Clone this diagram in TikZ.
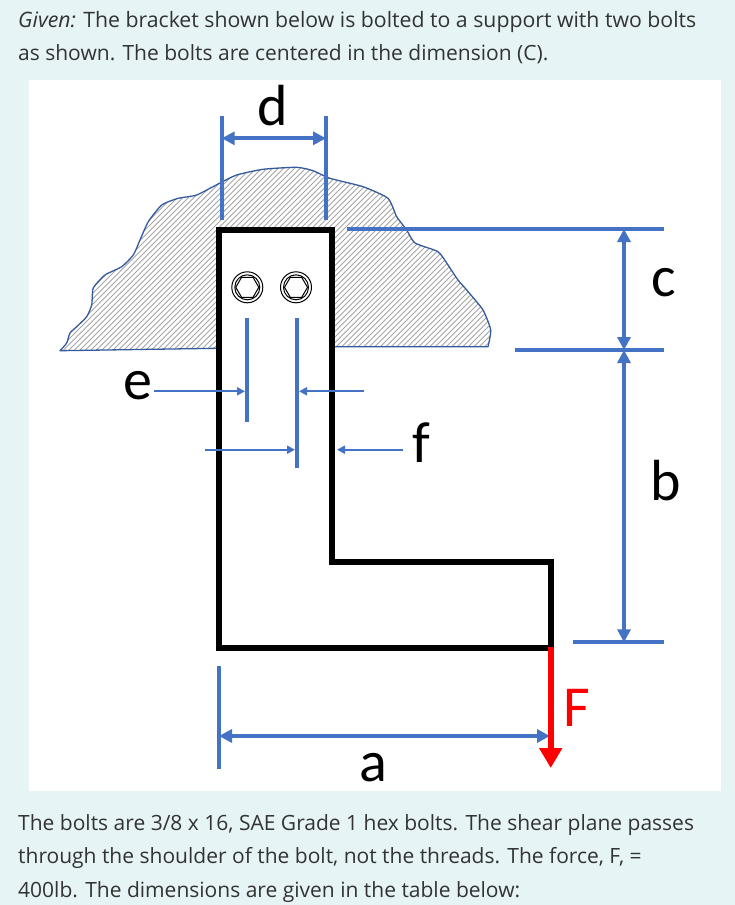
\documentclass[tikz,border=0pt]{standalone}
\usepackage{fontspec}
\usepackage{tikz}
\usetikzlibrary{arrows.meta,shapes.geometric}
\setmainfont{Open Sans}
\newfontfamily\dimfont{Carlito}
\definecolor{pagebg}{HTML}{E6F4F5}
\definecolor{dimblue}{HTML}{4472C4}
\definecolor{hatchgray}{HTML}{A6A6A6}
\definecolor{textgray}{HTML}{333333}
\newcommand{\rockpath}{plot[smooth,tension=.35] coordinates {(60,350.7) (66.7,343) (70,333) (76.7,326.7) (86.7,316.7) (91.7,305) (93.3,288) (105,275) (121.7,266.7) (133.3,255) (140,240) (148.3,221.7) (161.7,205) (178.3,198.3) (196.7,195) (220,183) (236.7,175) (263,169.3) (296.7,167.3) (313,170.7) (330,178.3) (363,186.7) (388,198.3) (396.7,216.7) (406.7,230) (415,243) (438,251.7) (448,265) (458,280) (466.7,290) (483,310) (490.7,330) (488,346.7)} -- (336.7,346.7) -- (216.7,348.3) -- cycle}
\tikzset{
	para/.style={anchor=base west,inner sep=0pt,text=textgray,font=\fontsize{21}{25}\selectfont},
	dimlabel/.style={anchor=base,inner sep=0pt,font=\dimfont\fontsize{58}{58}\selectfont},
	extline/.style={draw=dimblue,line width=4pt},
	dimline/.style={draw=dimblue,line width=4pt,{Triangle[length=13pt,width=13pt]}-{Triangle[length=13pt,width=13pt]}},
	leader/.style={draw=dimblue,line width=2.2pt,-{Triangle[length=8pt,width=8pt]}},
	ring/.style={shape=circle,draw=black,line width=1pt,inner sep=0pt},
	hexhead/.style={shape=regular polygon,regular polygon sides=6,draw=black,line width=1pt,inner sep=0pt,minimum size=23pt}
}
\begin{document}
\begin{tikzpicture}[x=1pt,y=-1pt]
	\useasboundingbox (0,0) rectangle (735,905);
	\fill[pagebg] (0,0) rectangle (735,905);
	\fill[white] (29,80) rectangle (721,791);
	
	% rock behind the bracket
	\begin{scope}
		\clip \rockpath;
		\foreach \hx in {60,65.5,...,720}
			\draw[hatchgray,line width=1pt] (\hx,150) -- (\hx-220,370);
	\end{scope}
	\draw[dimblue!80!black,line width=1.3pt,line join=round] \rockpath;
	
	% bracket
	\draw[black,fill=white,line width=6pt] (219,230) -- (331.5,230) -- (331.5,562) -- (551,562) -- (551,648) -- (219,648) -- cycle;
	
	% bolts
	\node[ring,minimum size=31pt] (boltA) at (247.3,287.3) {};
	\node[ring,minimum size=25pt] (boltAin) at (247.3,287.3) {};
	\node[hexhead] (hexA) at (247.3,287.3) {};
	\node[ring,minimum size=31pt] (boltB) at (296,287.3) {};
	\node[ring,minimum size=25pt] (boltBin) at (296,287.3) {};
	\node[hexhead] (hexB) at (296,287.3) {};
	
	% ends of the dimension lines
	\coordinate (dL) at (221.7,116);
	\coordinate (dLb) at (221.7,220);
	\coordinate (dR) at (326,116);
	\coordinate (dRb) at (326,220);
	\coordinate (dA) at (221.7,138.3);
	\coordinate (dB) at (326,138.3);
	\coordinate (topL) at (346.7,229);
	\coordinate (topR) at (664,229);
	\coordinate (midL) at (515,350);
	\coordinate (midR) at (664,350);
	\coordinate (botL) at (572.7,642.3);
	\coordinate (botR) at (664,642.3);
	\coordinate (cA) at (624,229);
	\coordinate (cB) at (624,350);
	\coordinate (bB) at (624,642.3);
	\coordinate (eT) at (247.3,318);
	\coordinate (eB) at (247.3,422);
	\coordinate (fT) at (297.3,318);
	\coordinate (fB) at (297.3,468);
	\coordinate (eS) at (154,391.3);
	\coordinate (eE) at (245,391.3);
	\coordinate (rS) at (364,391.3);
	\coordinate (rE) at (299,391.3);
	\coordinate (lS) at (205,449.7);
	\coordinate (lE) at (295,449.7);
	\coordinate (fS) at (403,449.7);
	\coordinate (fE) at (337,449.7);
	\coordinate (aT) at (218.5,665.7);
	\coordinate (aB) at (218.5,769);
	\coordinate (aA) at (219,736);
	\coordinate (aE) at (550,736);
	\coordinate (Fs) at (550.7,647);
	\coordinate (Fe) at (550.7,768);
	
	\draw[extline] (dL) -- (dLb);
	\draw[extline] (dR) -- (dRb);
	\draw[extline] (topL) -- (topR);
	\draw[extline] (midL) -- (midR);
	\draw[extline] (botL) -- (botR);
	\draw[extline] (eT) -- (eB);
	\draw[extline] (fT) -- (fB);
	\draw[extline] (aT) -- (aB);
	\draw[dimline] (dA) -- (dB);
	\draw[dimline] (cA) -- (cB);
	\draw[dimline] (cB) -- (bB);
	\draw[dimline] (aA) -- (aE);
	\draw[leader] (eS) -- (eE);
	\draw[leader] (rS) -- (rE);
	\draw[leader] (lS) -- (lE);
	\draw[leader] (fS) -- (fE);
	\draw[red,line width=6pt,-{Triangle[length=20pt,width=22pt]}] (Fs) -- (Fe);
	
	% labels
	\node[dimlabel] (labd) at (272.7,125) {d};
	\node[dimlabel] (labe) at (137.7,399) {e};
	\node[dimlabel] (labf) at (421.7,462.7) {f};
	\node[dimlabel] (laba) at (373,781) {a};
	\node[dimlabel,text=red] (labF) at (576.7,726) {F};
	\node[dimlabel] (labc) at (663.3,296) {c};
	\node[dimlabel] (labb) at (666,500) {b};
	
	% text above and below
	\node[para,font=\fontsize{21.25}{25}\selectfont] (lineA) at (18,27) {\textit{Given:} The bracket shown below is bolted to a support with two bolts};
	\node[para] (lineB) at (18,60) {as shown. The bolts are centered in the dimension (C).};
	\node[para] (lineC) at (18,830) {The bolts are 3/8 x 16, SAE Grade 1 hex bolts. The shear plane passes};
	\node[para] (lineD) at (18,863) {through the shoulder of the bolt, not the threads. The force, F, =};
	\node[para] (lineE) at (18,897) {400lb. The dimensions are given in the table below:};
	
\end{tikzpicture}
\end{document}
